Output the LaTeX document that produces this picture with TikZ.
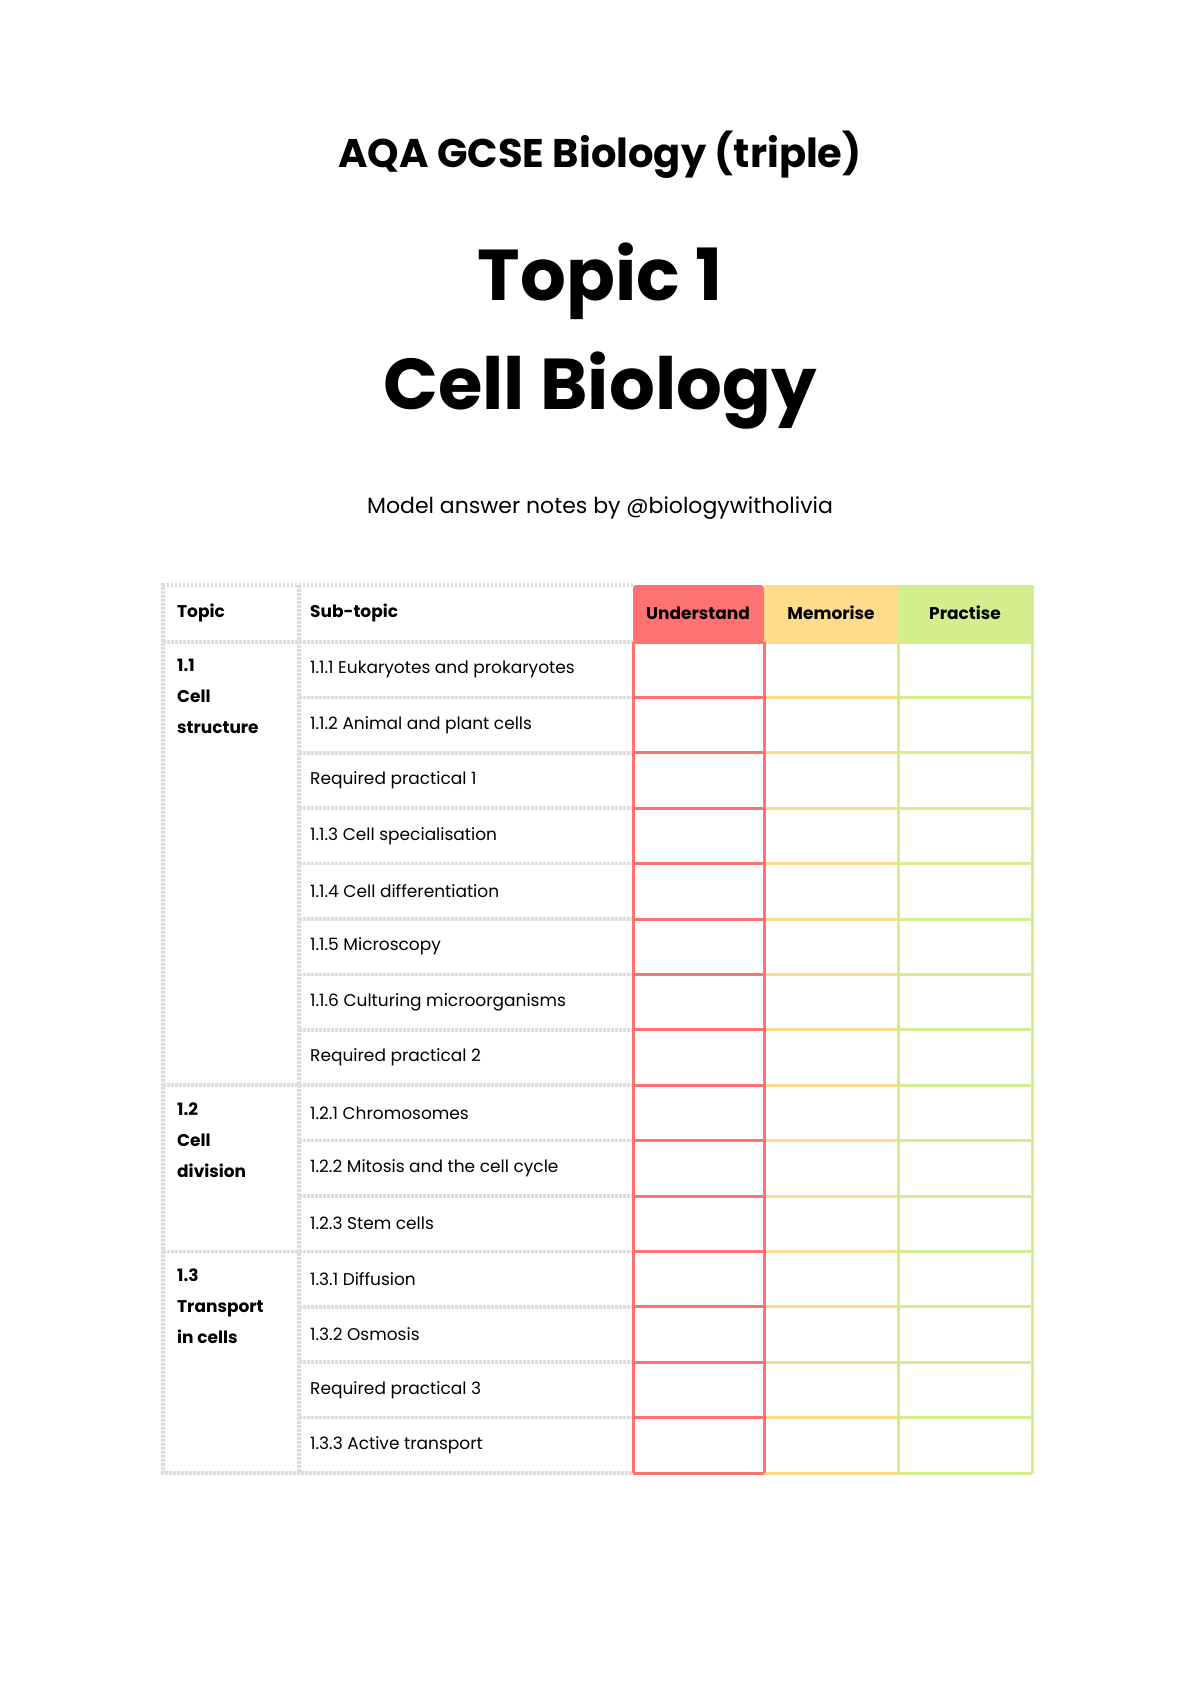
\documentclass[tikz,border=0pt]{standalone}
\usepackage{fontspec}
\setmainfont{Poppins}
\definecolor{ured}{HTML}{FF7272}
\definecolor{myel}{HTML}{FFDB8C}
\definecolor{pgrn}{HTML}{D3EE8C}
\definecolor{dgray}{HTML}{DCDCDC}
\begin{document}
\begin{tikzpicture}[x=1pt,y=-1pt,
  grayline/.style={draw=dgray,line width=3.5pt,dash pattern=on 2.5pt off 1.5pt},
  cell/.style={anchor=west,font=\fontsize{17}{20}\selectfont,inner sep=0},
  hcell/.style={font=\fontsize{17}{20}\selectfont\bfseries,inner sep=0},
  tcell/.style={font=\fontsize{17}{31}\selectfont\bfseries,inner sep=0,align=left,anchor=north west}]
\useasboundingbox (0,0) rectangle (1200,1694);
\node (t1) at (600,155) {\fontsize{40}{48}\selectfont\bfseries AQA GCSE Biology (triple)};
\node (t2) at (600,281) {\fontsize{72}{80}\selectfont\bfseries Topic 1};
\node (t3) at (600,391) {\fontsize{72}{80}\selectfont\bfseries Cell Biology};
\node (t4) at (600,508) {\fontsize{22}{26}\selectfont Model answer notes by @biologywitholivia};
% header fills
\fill[ured,rounded corners=3pt] (633,585) rectangle (764,642);
\fill[myel] (764,585) rectangle (898,642);
\fill[pgrn] (898,585) rectangle (1032,642);
% gray grid
\def\rh{55.4}
\draw[grayline] (633,585) -- (163,585) -- (163,1473) -- (633,1473);
\draw[grayline] (299,585) -- (299,1473);
\draw[grayline] (163,642) -- (633,642);
\draw[grayline] (163,642+8*\rh) -- (299,642+8*\rh);
\draw[grayline] (163,642+11*\rh) -- (299,642+11*\rh);
\foreach \i in {1,...,14} { \draw[grayline] (299,642+\i*\rh) -- (633,642+\i*\rh); }
% coloured grid
\foreach \i in {0,...,15} {
  \draw[ured,line width=3pt] (633,642+\i*\rh) -- (764,642+\i*\rh);
  \draw[myel,line width=3pt] (764,642+\i*\rh) -- (898,642+\i*\rh);
  \draw[pgrn,line width=3pt] (898,642+\i*\rh) -- (1032,642+\i*\rh);
}
\draw[ured,line width=3pt] (633,642) -- (633,1473);
\draw[ured,line width=3pt] (764,642) -- (764,1473);
\draw[pgrn,line width=3pt] (898,642) -- (898,1473);
\draw[pgrn,line width=3pt] (1032,585) -- (1032,1473);
% headers
\node[hcell,anchor=west] (h1) at (177,613) {Topic};
\node[hcell,anchor=west] (h2) at (310,613) {Sub-topic};
\node[hcell] (h3) at (698,613) {Understand};
\node[hcell] (h4) at (831,613) {Memorise};
\node[hcell] (h5) at (965,613) {Practise};
% topics
\node[tcell] (a1) at (177,659) {1.1\\Cell\\structure};
\node[tcell] (a2) at (177,659+8*\rh) {1.2\\Cell\\division};
\node[tcell] (a3) at (177,659+11*\rh) {1.3\\Transport\\in cells};
% subtopics
\foreach \s [count=\i from 0] in {1.1.1 Eukaryotes and prokaryotes,1.1.2 Animal and plant cells,Required practical 1,1.1.3 Cell specialisation,1.1.4 Cell differentiation,1.1.5 Microscopy,1.1.6 Culturing microorganisms,Required practical 2,1.2.1 Chromosomes,1.2.2 Mitosis and the cell cycle,1.2.3 Stem cells,1.3.1 Diffusion,1.3.2 Osmosis,Required practical 3,1.3.3 Active transport}
  { \node[cell] (s\i) at (310,642+\rh/2+\i*\rh) {\s}; }
\end{tikzpicture}
\end{document}
